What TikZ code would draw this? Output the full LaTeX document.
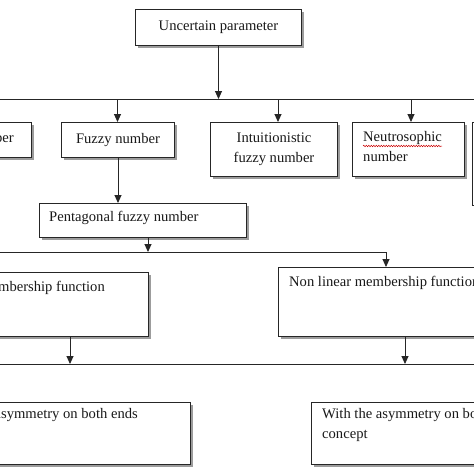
\documentclass[tikz,border=0pt]{standalone}
\usepackage{fontspec}
\setmainfont{Liberation Serif}
\usetikzlibrary{shadows,arrows.meta,decorations.pathmorphing}
\begin{document}
\begin{tikzpicture}[x=1pt,y=-1pt,
  fnt/.style={font=\fontsize{14.6}{20}\selectfont, text=black!90},
  box/.style={draw=black!85, line width=1pt, fill=white, inner sep=0pt, anchor=north west, fnt,
     drop shadow={shadow xshift=2pt, shadow yshift=-2pt, fill=black!55, opacity=0.7}},
  txt/.style={inner sep=0pt, fnt},
  conn/.style={line width=0.9pt, draw=black!85},
  arr/.style={conn, -{Triangle[length=8pt,width=7pt]}}
]
\useasboundingbox (0,0) rectangle (474,474);
\clip (0,0) rectangle (474,474);
\fill[white] (0,0) rectangle (474,474);

% root
\node[box, minimum width=166pt, minimum height=36pt] (root) at (135,9) {Uncertain parameter};

% first bus
\coordinate (b1L) at (-20,99);
\coordinate (b1R) at (494,99);
\draw[conn] (b1L) -- (b1R);
\coordinate (b1root) at (root.south |- b1L);
\draw[arr] (root.south) -- (b1root);

% second row
\node[box, minimum width=131pt, minimum height=35pt] (crisp) at (-100,122) {};
\node[txt, anchor=base east] (crisp-t) at (14,142) {Interval number};
\node[box, minimum width=113pt, minimum height=35pt] (fuzzy) at (61,122) {Fuzzy number};
\node[box, minimum width=127pt, minimum height=54pt, align=center] (intu) at (210,122) {Intuitionistic\\fuzzy number};
\node[box, minimum width=112pt, minimum height=54pt] (neut) at (352,122) {};
\node[txt, anchor=north west, align=left] (neut-t) at (363,131) {Neutrosophic\\number};
\draw[red!80!black, line width=0.5pt, decorate, decoration={snake, amplitude=0.7pt, segment length=2.5pt}] (363,146) -- (442,146);
\node[box, minimum width=60pt, minimum height=83pt] (edge) at (472,122) {};

\coordinate (b1a) at (117.5,99);
\coordinate (b1c) at (278,99);
\coordinate (b1d) at (411,99);
\draw[arr] (b1a) -- (b1a |- fuzzy.north);
\draw[arr] (b1c) -- (b1c |- intu.north);
\draw[arr] (b1d) -- (b1d |- neut.north);

% pentagonal
\node[box, minimum width=207pt, minimum height=34pt] (pent) at (39,203) {};
\node[txt, anchor=base west] (pent-t) at (49,221) {Pentagonal fuzzy number};
\draw[arr] (fuzzy.south) -- (fuzzy.south |- pent.north);

% second bus
\coordinate (b2L) at (-20,252);
\coordinate (b2R) at (386,252);
\coordinate (pdrop) at (148,252);
\draw[arr] (pdrop |- pent.south) -- (pdrop);

% membership boxes
\node[box, minimum width=250pt, minimum height=64pt] (lin) at (-102,272) {};
\node[txt, anchor=base east] (lin-t) at (105,291) {Linear membership function};
\node[box, minimum width=250pt, minimum height=69pt] (nonlin) at (278,267) {};
\node[txt, anchor=base west] (nonlin-t) at (289,286) {Non linear membership function};
\draw[arr] (b2L) -- (b2R) -- (b2R |- nonlin.north);

% third bus
\coordinate (b3L) at (-20,364);
\coordinate (b3R) at (494,364);
\draw[conn] (b3L) -- (b3R);
\coordinate (b3a) at (70,364);
\coordinate (b3b) at (405,364);
\draw[arr] (b3a |- lin.south) -- (b3a);
\draw[arr] (b3b |- nonlin.south) -- (b3b);

% bottom boxes
\node[box, minimum width=250pt, minimum height=62pt] (asymL) at (-60,402) {};
\node[txt, anchor=base east] (asymL-t) at (138,418) {With the asymmetry on both ends};
\node[box, minimum width=250pt, minimum height=62pt] (asymR) at (311,402) {};
\node[txt, anchor=north west, align=left] (asymR-t) at (322,408) {With the asymmetry on both ends\\concept};
\end{tikzpicture}
\end{document}
